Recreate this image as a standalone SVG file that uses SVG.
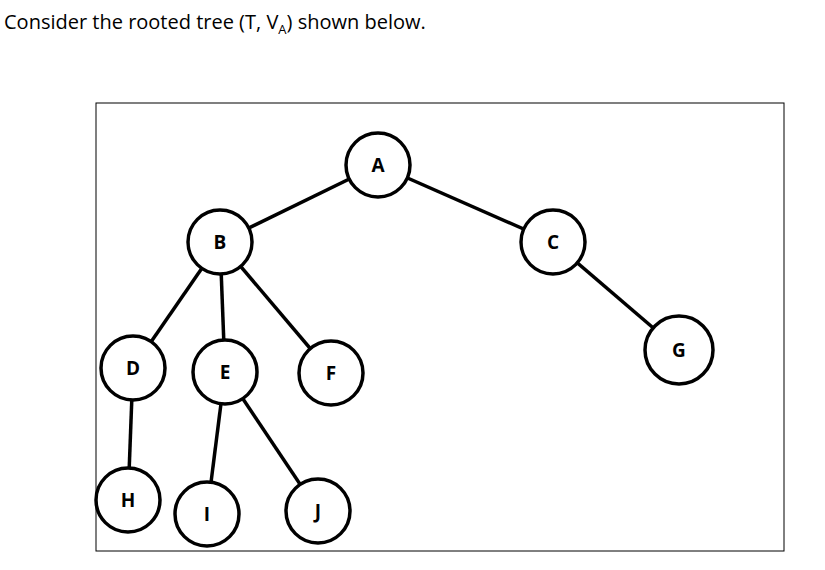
<svg xmlns="http://www.w3.org/2000/svg" width="825" height="570" viewBox="0 0 825 570">
<style>
.n{fill:#fff;stroke:#000;stroke-width:3.5}
.l{font-family:"Open Sans","Liberation Sans",Arial,sans-serif;font-weight:bold;font-size:19px;text-anchor:middle;dominant-baseline:central}
.e{stroke:#000;stroke-width:3.5;fill:none}
</style>
<rect width="825" height="570" fill="#fff"/>
<text x="4" y="29" font-family="Open Sans, Liberation Sans, sans-serif" font-size="20">Consider the rooted tree (T, V<tspan font-size="13" dy="5">A</tspan><tspan dy="-5">) shown below.</tspan></text>
<rect x="96" y="103" width="688" height="448" fill="none" stroke="#000" stroke-width="1"/>
<g id="connectors">
<line class="e" x1="378" y1="165" x2="220" y2="242"/>
<line class="e" x1="378" y1="165" x2="553" y2="242"/>
<line class="e" x1="220" y1="242" x2="133" y2="368"/>
<line class="e" x1="220" y1="242" x2="225" y2="372"/>
<line class="e" x1="220" y1="242" x2="331" y2="373"/>
<line class="e" x1="553" y1="242" x2="679" y2="350"/>
<line class="e" x1="133" y1="368" x2="128" y2="500"/>
<line class="e" x1="225" y1="372" x2="207" y2="514"/>
<line class="e" x1="225" y1="372" x2="318" y2="511"/>
</g>
<g id="A"><circle class="n" cx="378" cy="165" r="32"/><text class="l" x="378" y="165">A</text></g>
<g id="B"><circle class="n" cx="220" cy="242" r="32"/><text class="l" x="220" y="242">B</text></g>
<g id="C"><circle class="n" cx="553" cy="242" r="32"/><text class="l" x="553" y="242">C</text></g>
<g id="D"><circle class="n" cx="133" cy="368" r="32"/><text class="l" x="133" y="368">D</text></g>
<g id="E"><circle class="n" cx="225" cy="372" r="32"/><text class="l" x="225" y="372">E</text></g>
<g id="F"><circle class="n" cx="331" cy="373" r="32"/><text class="l" x="331" y="373">F</text></g>
<g id="G"><circle class="n" cx="679" cy="350" r="34"/><text class="l" x="679" y="350">G</text></g>
<g id="H"><circle class="n" cx="128" cy="500" r="32"/><text class="l" x="128" y="500">H</text></g>
<g id="I"><circle class="n" cx="207" cy="514" r="32"/><text class="l" x="207" y="514">I</text></g>
<g id="J"><circle class="n" cx="318" cy="511" r="32"/><text class="l" x="318" y="511">J</text></g>
</svg>
